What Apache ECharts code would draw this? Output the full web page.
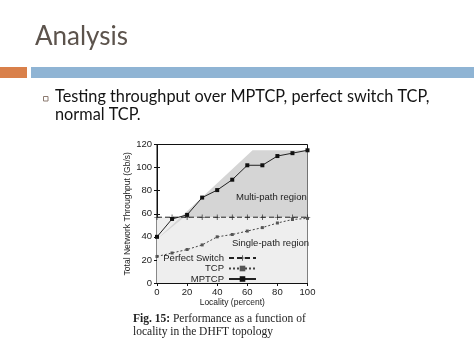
<!DOCTYPE html>
<html>
<head>
<meta charset="utf-8">
<script src="https://cdn.jsdelivr.net/npm/echarts@6/dist/echarts.min.js"></script>
<style>
html,body{margin:0;padding:0;background:#fff;}
#chart{width:474px;height:355px;}
</style>
</head>
<body>
<div id="chart"></div>
<script>
// ---- data ----
var locality = [0, 10, 20, 30, 40, 50, 60, 70, 80, 90, 100];
var perfectSwitch = [57, 57, 57, 57, 57, 57, 57, 57, 57, 57, 57];
var tcp = [23, 26, 29, 33, 40, 42, 45, 48, 52, 55, 56];
var mptcp = [40, 55.5, 59, 74, 80.5, 89.5, 102, 102, 110, 112.5, 115];
// region outlines [locality, throughput]
var singlePathRegion = [[0, 0], [100, 0], [100, 57], [0, 57]];
var multiPathRegion = [[0, 38], [63.5, 115], [100, 115], [100, 57], [18, 57]];
var xTicks = [0, 20, 40, 60, 80, 100];
var yTicks = [0, 20, 40, 60, 80, 100, 120];
var seriesNames = ['Perfect Switch', 'TCP', 'MPTCP'];

function pairs(ys) { return locality.map(function (x, i) { return [x, ys[i]]; }); }

function polygonSeries(points, color) {
  return {
    type: 'custom',
    silent: true,
    z: 1,
    data: [0],
    renderItem: function (params, api) {
      return {
        type: 'polygon',
        shape: { points: points.map(function (p) { return api.coord(p); }) },
        style: { fill: color }
      };
    }
  };
}

var chart = echarts.init(document.getElementById('chart'), null, { renderer: 'canvas' });
var axisFont = 'Liberation Sans, Arial, sans-serif';
var plusPath = 'path://M4.4,0H5.6V4.4H10V5.6H5.6V10H4.4V5.6H0V4.4H4.4Z';

var option = {
  animation: false,
  backgroundColor: '#ffffff',
  grid: { left: 157, right: 166.5, top: 144.5, bottom: 72, show: true, borderColor: '#111', borderWidth: 1, backgroundColor: 'transparent' },
  xAxis: [{
    type: 'value', min: 0, max: 100, interval: 20,
    name: 'Locality (percent)', nameLocation: 'middle', nameGap: 13,
    nameTextStyle: { fontFamily: axisFont, fontSize: 8.5, color: '#222' },
    axisLine: { show: true, lineStyle: { color: '#111', width: 1 } },
    axisTick: { show: true, inside: true, length: 3, lineStyle: { color: '#111' } },
    axisLabel: { fontFamily: axisFont, fontSize: 9.5, color: '#222', margin: 4, formatter: function (v) { return xTicks.indexOf(v) >= 0 ? String(v) : ''; } },
    splitLine: { show: false }
  }, {
    type: 'value', min: 0, max: 100, interval: 20, position: 'top',
    axisLine: { show: true, lineStyle: { color: '#111' } },
    axisTick: { show: true, inside: true, length: 3, lineStyle: { color: '#111' } },
    axisLabel: { show: false }, splitLine: { show: false }
  }],
  yAxis: [{
    type: 'value', min: 0, max: 120, interval: 20,
    name: 'Total Network Throughput (Gb/s)', nameLocation: 'middle', nameGap: 18, nameRotate: 90,
    nameTextStyle: { fontFamily: axisFont, fontSize: 8.5, color: '#222' },
    axisLine: { show: true, lineStyle: { color: '#111', width: 1 } },
    axisTick: { show: true, inside: true, length: 3, lineStyle: { color: '#111' } },
    axisLabel: { fontFamily: axisFont, fontSize: 9.5, color: '#222', margin: 5, formatter: function (v) { return yTicks.indexOf(v) >= 0 ? String(v) : ''; } },
    splitLine: { show: false }
  }, {
    type: 'value', min: 0, max: 120, interval: 20, position: 'right',
    axisLine: { show: true, lineStyle: { color: '#111' } },
    axisTick: { show: true, inside: true, length: 3, lineStyle: { color: '#111' } },
    axisLabel: { show: false }, splitLine: { show: false }
  }],
  legend: {
    orient: 'vertical', align: 'right', right: 217, top: 253, padding: 0,
    itemWidth: 27, itemHeight: 7, itemGap: 0.5,
    textStyle: { fontFamily: axisFont, fontSize: 9.5, lineHeight: 9.5, color: '#222', padding: 0 },
    data: seriesNames
  },
  series: [
    polygonSeries(singlePathRegion, '#eeeeee'),
    polygonSeries(multiPathRegion, '#d5d5d5'),
    {
      name: seriesNames[0], type: 'line', z: 3, data: pairs(perfectSwitch),
      symbol: plusPath, symbolSize: 5.5, showSymbol: true,
      lineStyle: { color: '#222', width: 1, type: [5, 3] },
      itemStyle: { color: '#222' }
    },
    {
      name: seriesNames[1], type: 'line', z: 3, data: pairs(tcp),
      symbol: 'rect', symbolSize: 3,
      lineStyle: { color: '#444', width: 1, type: [2, 2] },
      itemStyle: { color: '#555' }
    },
    {
      name: seriesNames[2], type: 'line', z: 4, data: pairs(mptcp),
      symbol: 'rect', symbolSize: 4,
      lineStyle: { color: '#222', width: 1 },
      itemStyle: { color: '#111' }
    }
  ],
  graphic: [
    { type: 'text', left: 35, top: 24, style: { text: 'Analysis', fontFamily: 'Lato, sans-serif', fontSize: 26, fill: '#5c534c' } },
    { type: 'rect', shape: { x: 0, y: 67, width: 27, height: 11 }, style: { fill: '#d9804a' } },
    { type: 'rect', shape: { x: 31, y: 67, width: 443, height: 11 }, style: { fill: '#8fb4d4' } },
    { type: 'rect', shape: { x: 43.5, y: 96.5, width: 4.5, height: 4.5 }, style: { fill: 'none', stroke: '#8c7a70', lineWidth: 1 } },
    { type: 'text', left: 55, top: 89, style: { text: 'Testing throughput over MPTCP, perfect switch TCP,', fontFamily: 'Lato, sans-serif', fontSize: 16.3, fill: '#141414' } },
    { type: 'text', left: 55, top: 107, style: { text: 'normal TCP.', fontFamily: 'Lato, sans-serif', fontSize: 16.3, fill: '#141414' } },
    { type: 'text', left: 236, top: 192, z: 10, style: { text: 'Multi-path region', fontFamily: axisFont, fontSize: 9.5, fill: '#222' } },
    { type: 'text', left: 232, top: 238, z: 10, style: { text: 'Single-path region', fontFamily: axisFont, fontSize: 9.5, fill: '#222' } },
    { type: 'text', left: 133, top: 312, style: {
        text: '{b|Fig. 15:} Performance as a function of\nlocality in the DHFT topology',
        fontFamily: 'Liberation Serif, Times New Roman, serif', fontSize: 11.5, fill: '#222', lineHeight: 13.5,
        rich: { b: { fontWeight: 'bold', fontFamily: 'Liberation Serif, serif', fontSize: 11.5, fill: '#222' } }
    } }
  ]
};
chart.setOption(option);
</script>
</body>
</html>
